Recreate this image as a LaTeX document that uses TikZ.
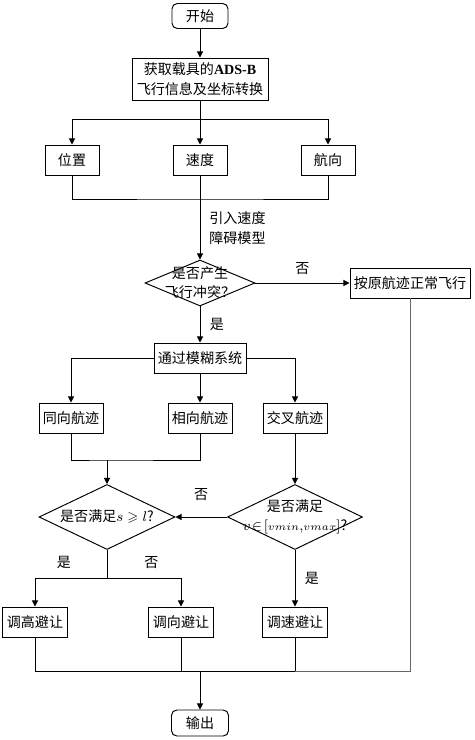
\documentclass[tikz,border=0pt]{standalone}
\usepackage{amsmath,amssymb}
\usepackage[no-math]{fontspec}
\setmainfont{Noto Sans CJK SC}
\newfontfamily\latinfont{Liberation Serif}
\usetikzlibrary{shapes.geometric,arrows.meta}

\begin{document}
\begin{tikzpicture}[x=0.02cm,y=-0.02cm,font=\fontsize{8}{11}\selectfont,
		line width=0.55pt,
		box/.style={draw,inner sep=0pt,align=center,minimum height=0.6cm},
		term/.style={box,rounded corners=3pt},
		decision/.style={draw,diamond,inner sep=0pt},
		arr/.style={-{Triangle[length=3.5pt,width=3.5pt]}}]
		\useasboundingbox (0,0) rectangle (474,740);
		\node[term,minimum width=1.12cm,minimum height=0.5cm] (start) at (200,16) {开始};
		\node[box,minimum width=2.72cm,minimum height=0.84cm] (acq) at (200,79) {获取载具的\textbf{\latinfont ADS-B}\\飞行信息及坐标转换};
		\node[box,minimum width=1.08cm] (pos) at (72,160) {位置};
		\node[box,minimum width=1.08cm] (spd) at (200,160) {速度};
		\node[box,minimum width=1.08cm] (hdg) at (328,160) {航向};
		\node[anchor=west,align=left] (model) at (203,228) {引入速度\\障碍模型};
		\node[decision,minimum width=2.2cm,minimum height=0.92cm,
			label={[align=center]center:是否产生\\飞行冲突？}] (conf) at (200,283) {};
		\node[box,minimum width=2.4cm] (normal) at (410,283) {按原航迹正常飞行};
		\node[box,minimum width=1.84cm] (fuzzy) at (200,358) {通过模糊系统};
		\node[box,minimum width=1.28cm] (same) at (71,418) {同向航迹};
		\node[box,minimum width=1.28cm] (opp) at (200,418) {相向航迹};
		\node[box,minimum width=1.28cm] (cross) at (295,418) {交叉航迹};
		\node[decision,minimum width=2.72cm,minimum height=1.3cm,
			label={center:是否满足$s\geqslant l$?}] (dist) at (107,517) {};
		\node[decision,minimum width=2.7cm,minimum height=1.3cm,
			label={[align=center]center:是否满足\\$v\!\in\![{\scriptstyle vmin},\!{\scriptstyle vmax}]$?}] (vel) at (295,517) {};
		\node[box,minimum width=1.3cm] (alt) at (35,622) {调高避让};
		\node[box,minimum width=1.3cm] (turn) at (181,622) {调向避让};
		\node[box,minimum width=1.3cm] (spdav) at (295,622) {调速避让};
		\node[term,minimum width=1.14cm,minimum height=0.52cm] (out) at (200,723) {输出};
		\coordinate (split1) at (200,119);
		\coordinate (join1) at (200,199);
		\coordinate (join2) at (107,460);
		\coordinate (split3) at (107,578);
		\coordinate (join3) at (200,671);
		\draw[arr] (start) -- (acq);
		\draw (acq) -- (split1);
		\draw[arr] (split1) -| (pos);
		\draw[arr] (split1) -- (spd);
		\draw[arr] (split1) -| (hdg);
		\draw (pos) |- (join1) -| (hdg);
		\draw[arr] (spd) -- (conf);
		\draw[arr] (conf) -- node[above=1pt] (no1) {否} (normal);
		\draw[arr] (conf) -- node[right=2pt] (yes1) {是} (fuzzy);
		\draw[arr] (fuzzy) -| (same);
		\draw[arr] (fuzzy) -- (opp);
		\draw[arr] (fuzzy) -| (cross);
		\draw (same) |- (join2) -| (opp);
		\draw[arr] (join2) -- (dist);
		\draw[arr] (cross) -- (vel);
		\draw[arr] (vel) -- node[above=6pt] (no2) {否} (dist);
		\draw[arr] (vel) -- node[right=2pt] (yes2) {是} (spdav);
		\draw (dist) -- (split3);
		\draw[arr] (split3) -| node[pos=0.3,above=2pt] (yes3) {是} (alt);
		\draw[arr] (split3) -| node[pos=0.3,above=2pt] (no3) {否} (turn);
		\draw (alt) |- (join3);
		\draw (turn) |- (join3);
		\draw (spdav) |- (join3);
		\draw[black!60] (normal) |- (spdav |- join3);
		\draw[arr] (join3) -- (out);
	\end{tikzpicture}
\end{document}
